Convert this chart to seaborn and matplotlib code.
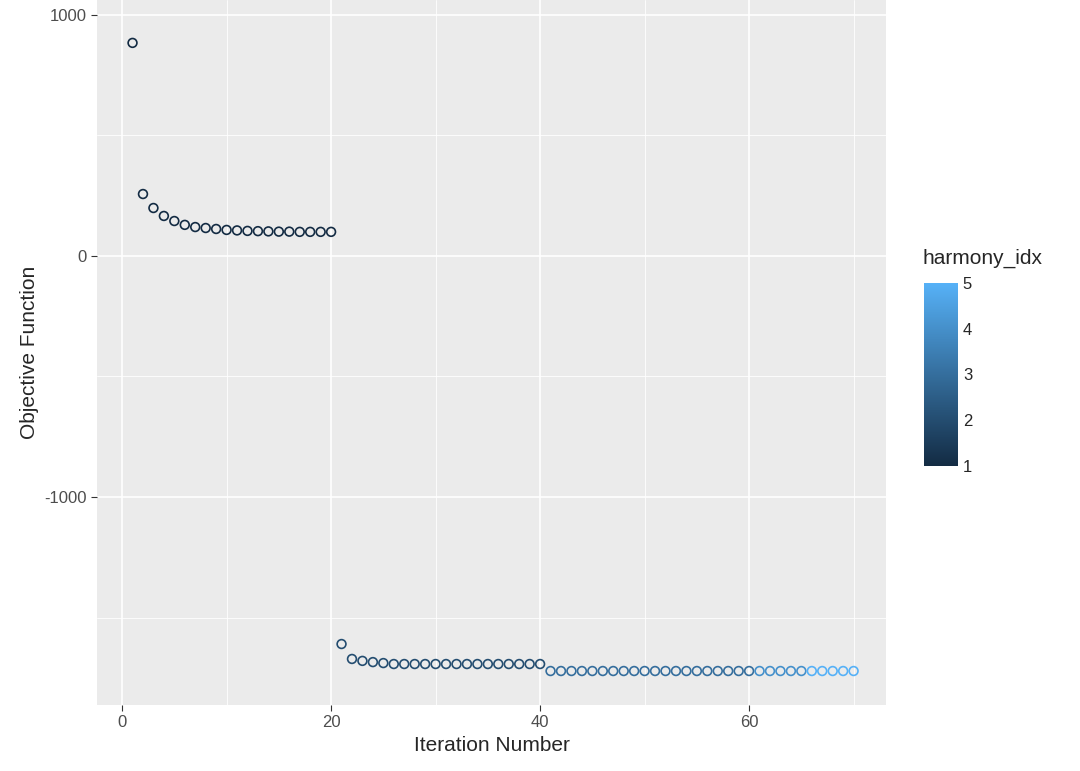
import numpy as np
import pandas as pd
import matplotlib
matplotlib.use("Agg")
import matplotlib.pyplot as plt
import seaborn as sns
from matplotlib.colors import LinearSegmentedColormap, Normalize

iteration = list(range(1, 71))
objective = [884, 257, 199, 166, 145, 129, 120, 116, 112, 108,
             106, 104, 103, 102, 101, 101, 100, 100, 100, 100,
             -1610, -1672, -1680, -1685, -1689, -1693, -1693, -1693, -1693, -1693,
             -1693, -1693, -1693, -1693, -1693, -1693, -1693, -1693, -1693, -1693,
             -1722, -1722, -1722, -1722, -1722, -1722, -1722, -1722, -1722, -1722,
             -1722, -1722, -1722, -1722, -1722, -1722, -1722, -1722, -1722, -1722,
             -1722, -1722, -1722, -1722, -1722, -1722, -1722, -1722, -1722, -1722]
harmony_idx = [1] * 20 + [2] * 20 + [3] * 20 + [4] * 5 + [5] * 5

df = pd.DataFrame({"iter": iteration, "obj": objective, "harmony_idx": harmony_idx})

cmap = LinearSegmentedColormap.from_list("gg", ["#132B43", "#56B1F7"])
norm = Normalize(1, 5)

sns.set_style("darkgrid", {"axes.facecolor": "#EBEBEB", "grid.color": "white"})
plt.rcParams['font.family'] = ['Liberation Sans', 'DejaVu Sans']
plt.rcParams['axes.unicode_minus'] = False

fig = plt.figure(figsize=(10.8, 7.71), dpi=100)
ax = fig.add_axes([97 / 1080, 1 - 705 / 771, (886 - 97) / 1080, 705 / 771])
ax.scatter(df["iter"], df["obj"], facecolors="none",
           edgecolors=cmap(norm(df["harmony_idx"])), s=40, linewidths=1.2, zorder=3)
ax.set_xlim(-2.4, 73.1)
ax.set_ylim(-1863, 1062)
ax.set_xticks([0, 20, 40, 60])
ax.set_yticks([-1000, 0, 1000])
ax.set_xticks([10, 30, 50, 70], minor=True)
ax.set_yticks([-1500, -500, 500], minor=True)
ax.grid(which="major", color="white", linewidth=1.2)
ax.grid(which="minor", color="white", linewidth=0.6)
ax.tick_params(which="major", labelsize=12, colors="#4D4D4D", length=4, color="#333333", left=True, bottom=True)
ax.tick_params(which="minor", length=0)
for s in ax.spines.values():
    s.set_visible(False)
ax.set_xlabel("Iteration Number", fontsize=15)
ax.set_ylabel("Objective Function", fontsize=15)

cax = fig.add_axes([924 / 1080, 1 - 466 / 771, 34 / 1080, 183 / 771])
sm = plt.cm.ScalarMappable(norm=norm, cmap=cmap)
cb = fig.colorbar(sm, cax=cax, ticks=[1, 2, 3, 4, 5])
cb.outline.set_visible(False)
cb.ax.tick_params(labelsize=12, length=5, color="white", direction="in")
fig.text(922 / 1080, 1 - 258 / 771, "harmony_idx", fontsize=15, va="center")

fig.savefig("out.png", dpi=100)
